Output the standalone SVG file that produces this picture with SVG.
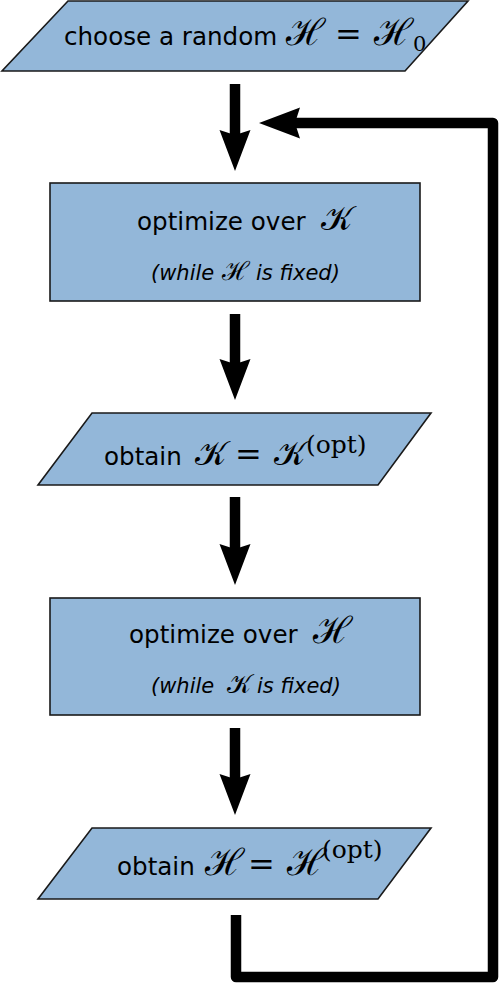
<svg xmlns="http://www.w3.org/2000/svg" width="500" height="983" viewBox="0 0 500 983">
<style>
.box{fill:#93b7d9;stroke:#1a1a1a;stroke-width:1.6}
.t{font-family:"DejaVu Sans","Liberation Sans",sans-serif;font-size:24.6px;fill:#000}
.it{font-family:"DejaVu Sans","Liberation Sans",sans-serif;font-size:21px;font-style:italic;fill:#000}
.m{font-family:"DejaVu Serif","Liberation Serif",serif;font-size:32px;fill:#000}
.L{font-family:"DejaVu Serif","Liberation Serif",serif;font-size:37px;fill:#000}
.K{font-family:"DejaVu Serif","Liberation Serif",serif;font-size:34px;fill:#000}
.ms{font-family:"DejaVu Serif","Liberation Serif",serif;font-size:25px;fill:#000}
.sub{font-family:"DejaVu Serif","Liberation Serif",serif;font-size:21px;fill:#000}
.mi{font-family:"DejaVu Serif","Liberation Serif",serif;font-size:26px;fill:#000}
.c{fill:none;stroke:#000;stroke-width:10.5;stroke-linejoin:round}
</style>
<defs>
<marker id="head" markerUnits="userSpaceOnUse" viewBox="0 -16 42 32" markerWidth="42" markerHeight="32" refX="5" refY="0" orient="auto">
<path d="M0,-15.5 L41,0 L0,15.5 L5,0 Z" fill="#000"/>
</marker>
</defs>
<g id="connectors">
<path class="c" d="M235,84 L235,135" marker-end="url(#head)"/>
<path class="c" d="M235,314 L235,364" marker-end="url(#head)"/>
<path class="c" d="M235,497 L235,549" marker-end="url(#head)"/>
<path class="c" d="M235,728 L235,779" marker-end="url(#head)"/>
<path class="c" d="M236,915 L236,977 L493,977 L493,123 L295,123" marker-end="url(#head)"/>
</g>
<g id="n1">
<polygon class="box" points="68,1 468,1 405,71 2,71"/>
<text class="t" x="64" y="45">choose a random</text>
<text class="L" x="286" y="45">ℋ</text>
<text class="m" x="335" y="45">=</text>
<text class="L" x="374" y="45">ℋ</text>
<text class="sub" x="413" y="51">0</text>
</g>
<g id="n2">
<rect class="box" x="50" y="183" width="370" height="118"/>
<text class="t" x="137" y="230">optimize over</text>
<text class="K" x="321" y="230">𝒦</text>
<text class="it" x="151" y="280">(while</text>
<text class="mi" x="222" y="280">ℋ</text>
<text class="it" x="256" y="280">is fixed)</text>
</g>
<g id="n3">
<polygon class="box" points="92,413 431,413 378,485 38,485"/>
<text class="t" x="104" y="465">obtain</text>
<text class="K" x="195" y="465">𝒦</text>
<text class="m" x="235" y="465">=</text>
<text class="K" x="274" y="465">𝒦</text>
<text class="ms" x="306" y="453">(opt)</text>
</g>
<g id="n4">
<rect class="box" x="50" y="598" width="370" height="117"/>
<text class="t" x="129" y="643">optimize over</text>
<text class="L" x="313" y="643">ℋ</text>
<text class="it" x="151" y="693">(while</text>
<text class="mi" x="227" y="693">𝒦</text>
<text class="it" x="257" y="693">is fixed)</text>
</g>
<g id="n5">
<polygon class="box" points="92,828 431,828 378,899 38,899"/>
<text class="t" x="117" y="875">obtain</text>
<text class="L" x="205" y="875">ℋ</text>
<text class="m" x="248" y="875">=</text>
<text class="L" x="287" y="875">ℋ</text>
<text class="ms" x="322" y="858">(opt)</text>
</g>
</svg>
